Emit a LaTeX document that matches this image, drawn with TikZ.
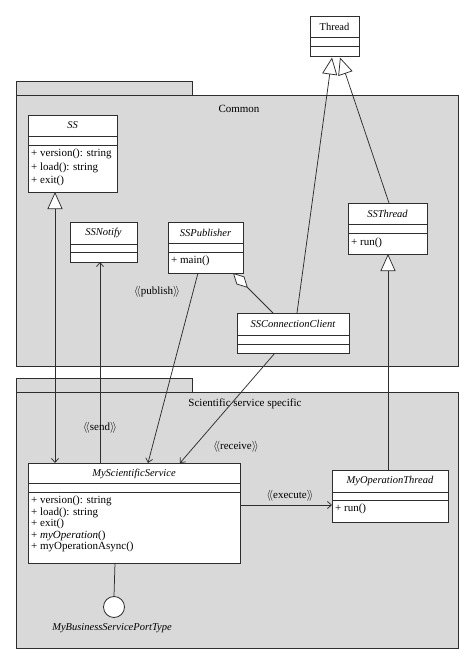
\documentclass[tikz,border=0pt]{standalone}
\usepackage{fontspec}
\setmainfont{Liberation Serif}
\usetikzlibrary{arrows.meta}
\definecolor{ln}{HTML}{2E2E2E}
\definecolor{pkgfill}{HTML}{D9D9D9}
\newcommand{\gll}{$\langle\!\langle$}
\newcommand{\grr}{$\rangle\!\rangle$}
\begin{document}
\begin{tikzpicture}[x=1pt,y=-1pt,
  box/.style={draw=ln, fill=white, line width=0.85pt, inner sep=0pt, outer sep=0pt, anchor=north west},
  pkg/.style={draw=ln, fill=pkgfill, line width=0.85pt, inner sep=0pt, outer sep=0pt, anchor=north west},
  ttl/.style={font=\fontsize{10.5}{12}\selectfont\itshape, inner sep=0pt},
  ttlup/.style={font=\fontsize{10.5}{12}\selectfont, inner sep=0pt},
  op/.style={font=\fontsize{11}{12}\selectfont, inner sep=0pt, anchor=west},
  lbl/.style={font=\fontsize{11}{12}\selectfont, inner sep=0pt},
  divl/.style={draw=ln, line width=0.85pt},
  conn/.style={draw=ln, line width=0.75pt},
  gentip/.tip={Triangle[length=17pt, width=15pt, fill=white, line width=0.75pt]},
  deptip/.tip={Straight Barb[length=4pt, width=7pt, line width=0.75pt]},
  aggtip/.tip={Diamond[length=21pt, width=11pt, fill=white, line width=0.75pt]}
]
\useasboundingbox (0,0) rectangle (474,665);

% packages
\node[pkg, minimum width=176pt, minimum height=14pt] (comtab) at (16,81) {};
\node[pkg, minimum width=442pt, minimum height=271pt] (com) at (16,95) {};
\node[lbl] (comlbl) at (239,109) {Common};
\node[pkg, minimum width=176pt, minimum height=14pt] (scitab) at (16,378) {};
\node[pkg, minimum width=442pt, minimum height=256pt] (sci) at (16,392) {};
\node[lbl] (scilbl) at (245,404) {Scientific service specific};

% Thread
\node[box, minimum width=49pt, minimum height=40pt] (thread) at (310,16) {};
\draw[divl] ([yshift=-21pt]thread.north west) -- ([yshift=-21pt]thread.north east);
\draw[divl] ([yshift=-30pt]thread.north west) -- ([yshift=-30pt]thread.north east);
\node[ttlup] (threadt) at ([yshift=-10.5pt]thread.north) {Thread};

% SS
\node[box, minimum width=89pt, minimum height=77pt] (ss) at (28,115) {};
\draw[divl] ([yshift=-21pt]ss.north west) -- ([yshift=-21pt]ss.north east);
\draw[divl] ([yshift=-30pt]ss.north west) -- ([yshift=-30pt]ss.north east);
\node[ttl] (sst) at ([yshift=-10.5pt]ss.north) {SS};
\node[op] (sso1) at (31,154) {+ version(): string};
\node[op] (sso2) at (31,167.5) {+ load(): string};
\node[op] (sso3) at (31,181) {+ exit()};

% SSNotify
\node[box, minimum width=67pt, minimum height=40pt] (ssn) at (70,222) {};
\draw[divl] ([yshift=-22pt]ssn.north west) -- ([yshift=-22pt]ssn.north east);
\draw[divl] ([yshift=-30pt]ssn.north west) -- ([yshift=-30pt]ssn.north east);
\node[ttl] (ssnt) at ([yshift=-11pt]ssn.north) {SSNotify};

% SSPublisher
\node[box, minimum width=75pt, minimum height=51pt] (ssp) at (168,222) {};
\draw[divl] ([yshift=-21pt]ssp.north west) -- ([yshift=-21pt]ssp.north east);
\draw[divl] ([yshift=-30pt]ssp.north west) -- ([yshift=-30pt]ssp.north east);
\node[ttl] (sspt) at ([yshift=-10.5pt]ssp.north) {SSPublisher};
\node[op] (sspo1) at (171,261) {+ main()};

% SSThread
\node[box, minimum width=79pt, minimum height=51pt] (sst2) at (348,203) {};
\draw[divl] ([yshift=-21pt]sst2.north west) -- ([yshift=-21pt]sst2.north east);
\draw[divl] ([yshift=-30pt]sst2.north west) -- ([yshift=-30pt]sst2.north east);
\node[ttl] (sst2t) at ([yshift=-10.5pt]sst2.north) {SSThread};
\node[op] (sst2o1) at (351,243) {+ run()};

% SSConnectionClient
\node[box, minimum width=112pt, minimum height=40pt] (sscc) at (237,313) {};
\draw[divl] ([yshift=-22pt]sscc.north west) -- ([yshift=-22pt]sscc.north east);
\draw[divl] ([yshift=-31pt]sscc.north west) -- ([yshift=-31pt]sscc.north east);
\node[ttl] (sscct) at ([yshift=-11pt]sscc.north) {SSConnectionClient};

% MyScientificService
\node[box, minimum width=212pt, minimum height=100pt] (mss) at (28,463) {};
\draw[divl] ([yshift=-20pt]mss.north west) -- ([yshift=-20pt]mss.north east);
\draw[divl] ([yshift=-29pt]mss.north west) -- ([yshift=-29pt]mss.north east);
\node[ttl] (msst) at ([yshift=-10.5pt]mss.north) {MyScientificService};
\node[op] (msso1) at (31,501) {+ version(): string};
\node[op] (msso2) at (31,512.5) {+ load(): string};
\node[op] (msso3) at (31,524) {+ exit()};
\node[op] (msso4) at (31,535.5) {+ \textit{myOperation}()};
\node[op] (msso5) at (31,547) {+ myOperationAsync()};

% MyOperationThread
\node[box, minimum width=116pt, minimum height=52pt] (mot) at (332,470) {};
\draw[divl] ([yshift=-22pt]mot.north west) -- ([yshift=-22pt]mot.north east);
\draw[divl] ([yshift=-30pt]mot.north west) -- ([yshift=-30pt]mot.north east);
\node[ttl] (mott) at ([yshift=-11pt]mot.north) {MyOperationThread};
\node[op] (moto1) at (335,509) {+ run()};

% port
\node[circle, draw=ln, fill=white, line width=0.85pt, minimum size=21pt, inner sep=0pt] (port) at (114,607) {};
\node[ttl] (portl) at (112,628) {MyBusinessServicePortType};

% connectors
\draw[conn, gentip-deptip] ([xshift=27pt]ss.south west) -- ([xshift=27pt]mss.north west);
\draw[conn, -deptip] ([xshift=72pt]mss.north west) -- ([xshift=30pt]ssn.south west);
\node[lbl] (sendl) at (100,428) {\gll send\grr};
\draw[conn, -deptip] ([xshift=30pt]ssp.south west) -- ([xshift=120pt]mss.north west);
\node[lbl] (publ) at (157,292) {\gll publish\grr};
\draw[conn, aggtip-] ([xshift=65pt]ssp.south west) -- ([xshift=36pt]sscc.north west);
\draw[conn, -gentip] ([xshift=60pt]sscc.north west) -- ([xshift=22pt,yshift=-1.5pt]thread.south west);
\draw[conn, -gentip] ([xshift=41pt]sst2.north west) -- ([xshift=30pt,yshift=-1.5pt]thread.south west);
\draw[conn, -deptip] ([xshift=38pt]sscc.south west) -- ([xshift=152pt]mss.north west);
\node[lbl] (recl) at (236,447) {\gll receive\grr};
\draw[conn, -gentip] ([xshift=56pt]mot.north west) -- ([xshift=40pt]sst2.south west);
\draw[conn, -deptip] ([yshift=8pt]mss.east) -- ([yshift=-9pt]mot.west);
\node[lbl] (exel) at (290,496) {\gll execute\grr};
\draw[conn] ([xshift=87pt]mss.south west) -- (port.north);
\end{tikzpicture}
\end{document}
